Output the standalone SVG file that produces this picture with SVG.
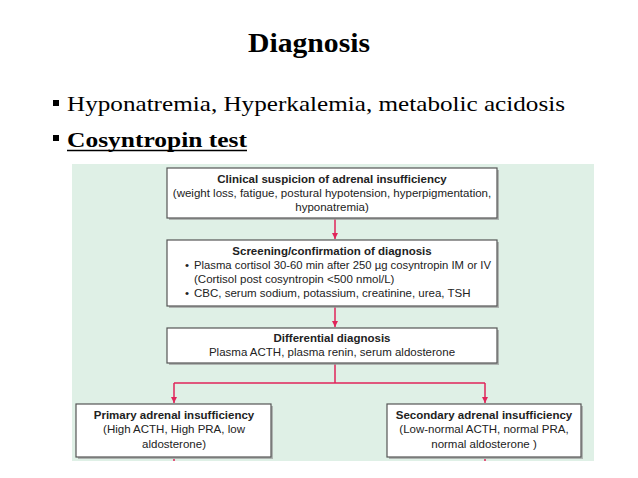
<svg xmlns="http://www.w3.org/2000/svg" width="638" height="478" viewBox="0 0 638 478">
<defs>
<style>
.ttl{font-family:"Liberation Serif",serif;font-weight:bold;font-size:27px;fill:#000}
.bl{font-family:"Liberation Serif",serif;font-size:21px;fill:#000}
.box{fill:#fff;stroke:#555;stroke-width:1.2}
.sh{fill:#9a9a9a;opacity:0.7}
.t{font-family:"Liberation Sans",Arial,sans-serif;font-size:11.5px;fill:#222;text-anchor:middle}
.tl{font-family:"Liberation Sans",Arial,sans-serif;font-size:11.5px;fill:#222}
.b{font-weight:bold}
.cn{stroke:#e0245a;stroke-width:1.5;fill:none}
</style>
<marker id="ah" viewBox="0 0 10 10" refX="10" refY="5" markerWidth="6" markerHeight="6" markerUnits="userSpaceOnUse" orient="auto">
<path d="M0,0 L10,5 L0,10 z" fill="#e0245a"/>
</marker>
</defs>
<rect width="638" height="478" fill="#fff"/>
<g id="header">
<text class="ttl" x="309" y="52" text-anchor="middle" textLength="122" lengthAdjust="spacingAndGlyphs">Diagnosis</text>
<rect x="53" y="100" width="6" height="6" fill="#000"/>
<text class="bl" x="67" y="111" textLength="498" lengthAdjust="spacingAndGlyphs">Hyponatremia, Hyperkalemia, metabolic acidosis</text>
<rect x="53" y="135" width="6" height="6" fill="#000"/>
<text class="bl b" x="67" y="147" textLength="180" lengthAdjust="spacingAndGlyphs">Cosyntropin test</text>
<line x1="67" y1="150.5" x2="247" y2="150.5" stroke="#000" stroke-width="1.6"/>
</g>
<rect id="panel" x="72" y="164" width="522" height="297" fill="#dff0e6"/>
<g id="connectors">
<line class="cn" x1="335" y1="219" x2="335" y2="239" marker-end="url(#ah)"/>
<line class="cn" x1="335" y1="307" x2="335" y2="327" marker-end="url(#ah)"/>
<line class="cn" x1="335" y1="364" x2="335" y2="383"/>
<line class="cn" x1="174" y1="383" x2="485" y2="383"/>
<line class="cn" x1="174" y1="383" x2="174" y2="403" marker-end="url(#ah)"/>
<line class="cn" x1="485" y1="383" x2="485" y2="403" marker-end="url(#ah)"/>
<line class="cn" x1="174" y1="459" x2="174" y2="461"/>
<line class="cn" x1="485" y1="459" x2="485" y2="461"/>
</g>
<g id="n1">
<rect class="sh" x="169" y="170" width="330" height="50"/>
<rect class="box" x="167" y="168" width="330" height="50"/>
<text class="t b" x="332" y="183">Clinical suspicion of adrenal insufficiency</text>
<text class="t" x="332" y="197">(weight loss, fatigue, postural hypotension, hyperpigmentation,</text>
<text class="t" x="332" y="211">hyponatremia)</text>
</g>
<g id="n2">
<rect class="sh" x="169" y="242" width="330" height="66"/>
<rect class="box" x="167" y="240" width="330" height="66"/>
<text class="t b" x="332" y="255">Screening/confirmation of diagnosis</text>
<text class="tl" x="185" y="269">•</text>
<text class="tl" x="194" y="269" textLength="297" lengthAdjust="spacingAndGlyphs">Plasma cortisol 30-60 min after 250 µg cosyntropin IM or IV</text>
<text class="tl" x="194" y="283">(Cortisol post cosyntropin &lt;500 nmol/L)</text>
<text class="tl" x="185" y="297">•</text>
<text class="tl" x="194" y="297">CBC, serum sodium, potassium, creatinine, urea, TSH</text>
</g>
<g id="n3">
<rect class="sh" x="169" y="330" width="330" height="35"/>
<rect class="box" x="167" y="328" width="330" height="35"/>
<text class="t b" x="332" y="342">Differential diagnosis</text>
<text class="t" x="332" y="356">Plasma ACTH, plasma renin, serum aldosterone</text>
</g>
<g id="n4">
<rect class="sh" x="78" y="406" width="195" height="53"/>
<rect class="box" x="76" y="404" width="195" height="53"/>
<text class="t b" x="174" y="419">Primary adrenal insufficiency</text>
<text class="t" x="174" y="433">(High ACTH, High PRA, low</text>
<text class="t" x="174" y="448">aldosterone)</text>
</g>
<g id="n5">
<rect class="sh" x="389" y="406" width="194" height="53"/>
<rect class="box" x="387" y="404" width="194" height="53"/>
<text class="t b" x="484" y="419">Secondary adrenal insufficiency</text>
<text class="t" x="484" y="433">(Low-normal ACTH, normal PRA,</text>
<text class="t" x="484" y="448">normal aldosterone )</text>
</g>
</svg>
